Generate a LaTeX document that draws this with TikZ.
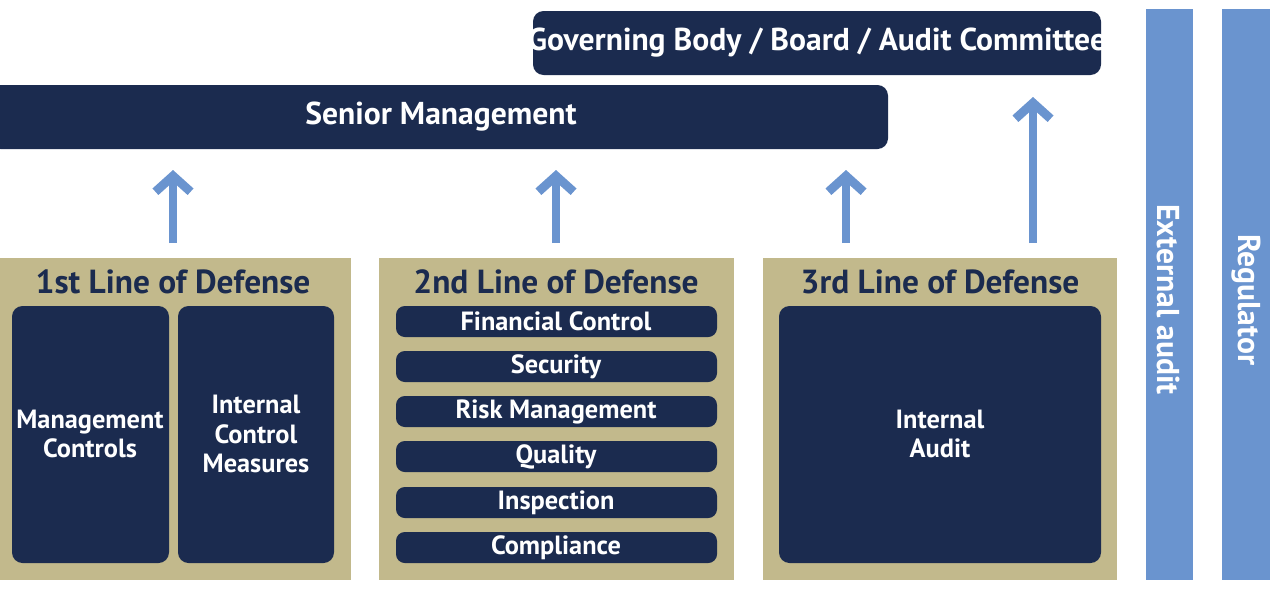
\documentclass[tikz,border=0pt]{standalone}
\usetikzlibrary{arrows.meta}
\usepackage{fontspec}
\setmainfont{PT Sans}
\definecolor{navy}{HTML}{1B2B4F}
\definecolor{tan}{HTML}{C2B98C}
\definecolor{lblue}{HTML}{6A94CF}
\begin{document}
\begin{tikzpicture}[x=0.02cm,y=-0.02cm,
 nbox/.style={fill=navy,rounded corners=6pt},
 panel/.style={fill=tan},
 wt/.style={text=white,font=\bfseries\fontsize{15}{17}\selectfont,align=center},
 ttl/.style={text=navy,font=\bfseries\fontsize{19}{21}\selectfont},
 up/.style={draw=lblue,line width=5pt,-{Straight Barb[length=9pt,width=20pt,line width=5pt]}}]
\useasboundingbox (0,0) rectangle (1288,593);
% top boxes
\fill[nbox] (533,11) rectangle (1101,75);
\node[wt,font=\bfseries\fontsize{18}{20}\selectfont] (gov) at (817,43) {Governing Body / Board / Audit Committee};
\fill[nbox] (-10,85) rectangle (888,149);
\node[wt,font=\bfseries\fontsize{18}{20}\selectfont] (sm) at (441,117) {Senior Management};
% arrows
\coordinate (a1) at (173,243); \coordinate (b1) at (173,170);
\coordinate (a2) at (556,243); \coordinate (b2) at (556,170);
\coordinate (a3) at (846,243); \coordinate (b3) at (846,170);
\coordinate (a4) at (1033,243); \coordinate (b4) at (1033,97);
\foreach \i in {1,2,3,4} \draw[up] (a\i) -- (b\i);
% panels
\fill[panel] (0,258) rectangle (351,580);
\fill[panel] (379,258) rectangle (734,580);
\fill[panel] (763,258) rectangle (1117,580);
\node[ttl] (t1) at (173,282) {1st Line of Defense};
\node[ttl] (t2) at (556,282) {2nd Line of Defense};
\node[ttl] (t3) at (940,282) {3rd Line of Defense};
% 1st
\fill[nbox] (12,306) rectangle (169,563);
\node[wt] (mc) at (90,434) {Management\\Controls};
\fill[nbox] (178,306) rectangle (334,563);
\node[wt] (icm) at (256,434) {Internal\\Control\\Measures};
% 2nd
\foreach \y/\t in {306/Financial Control,351/Security,396/Risk Management,441/Quality,487/Inspection,532/Compliance}{
 \fill[nbox,rounded corners=5pt] (396,\y) rectangle (717,\y+31);
 \node[wt] at (556,\y+15.5) {\t};
}
% 3rd
\fill[nbox] (779,306) rectangle (1101,563);
\node[wt] (ia) at (940,434) {Internal\\Audit};
% side bars
\fill[lblue] (1146,9) rectangle (1193,580);
\node[wt,rotate=-90,anchor=west,font=\bfseries\fontsize{18}{20}\selectfont] (ea) at (1169,198) {External audit};
\fill[lblue] (1222,9) rectangle (1270,580);
\node[wt,rotate=-90,anchor=west,font=\bfseries\fontsize{18}{20}\selectfont] (rg) at (1246,228) {Regulator};
\end{tikzpicture}
\end{document}
